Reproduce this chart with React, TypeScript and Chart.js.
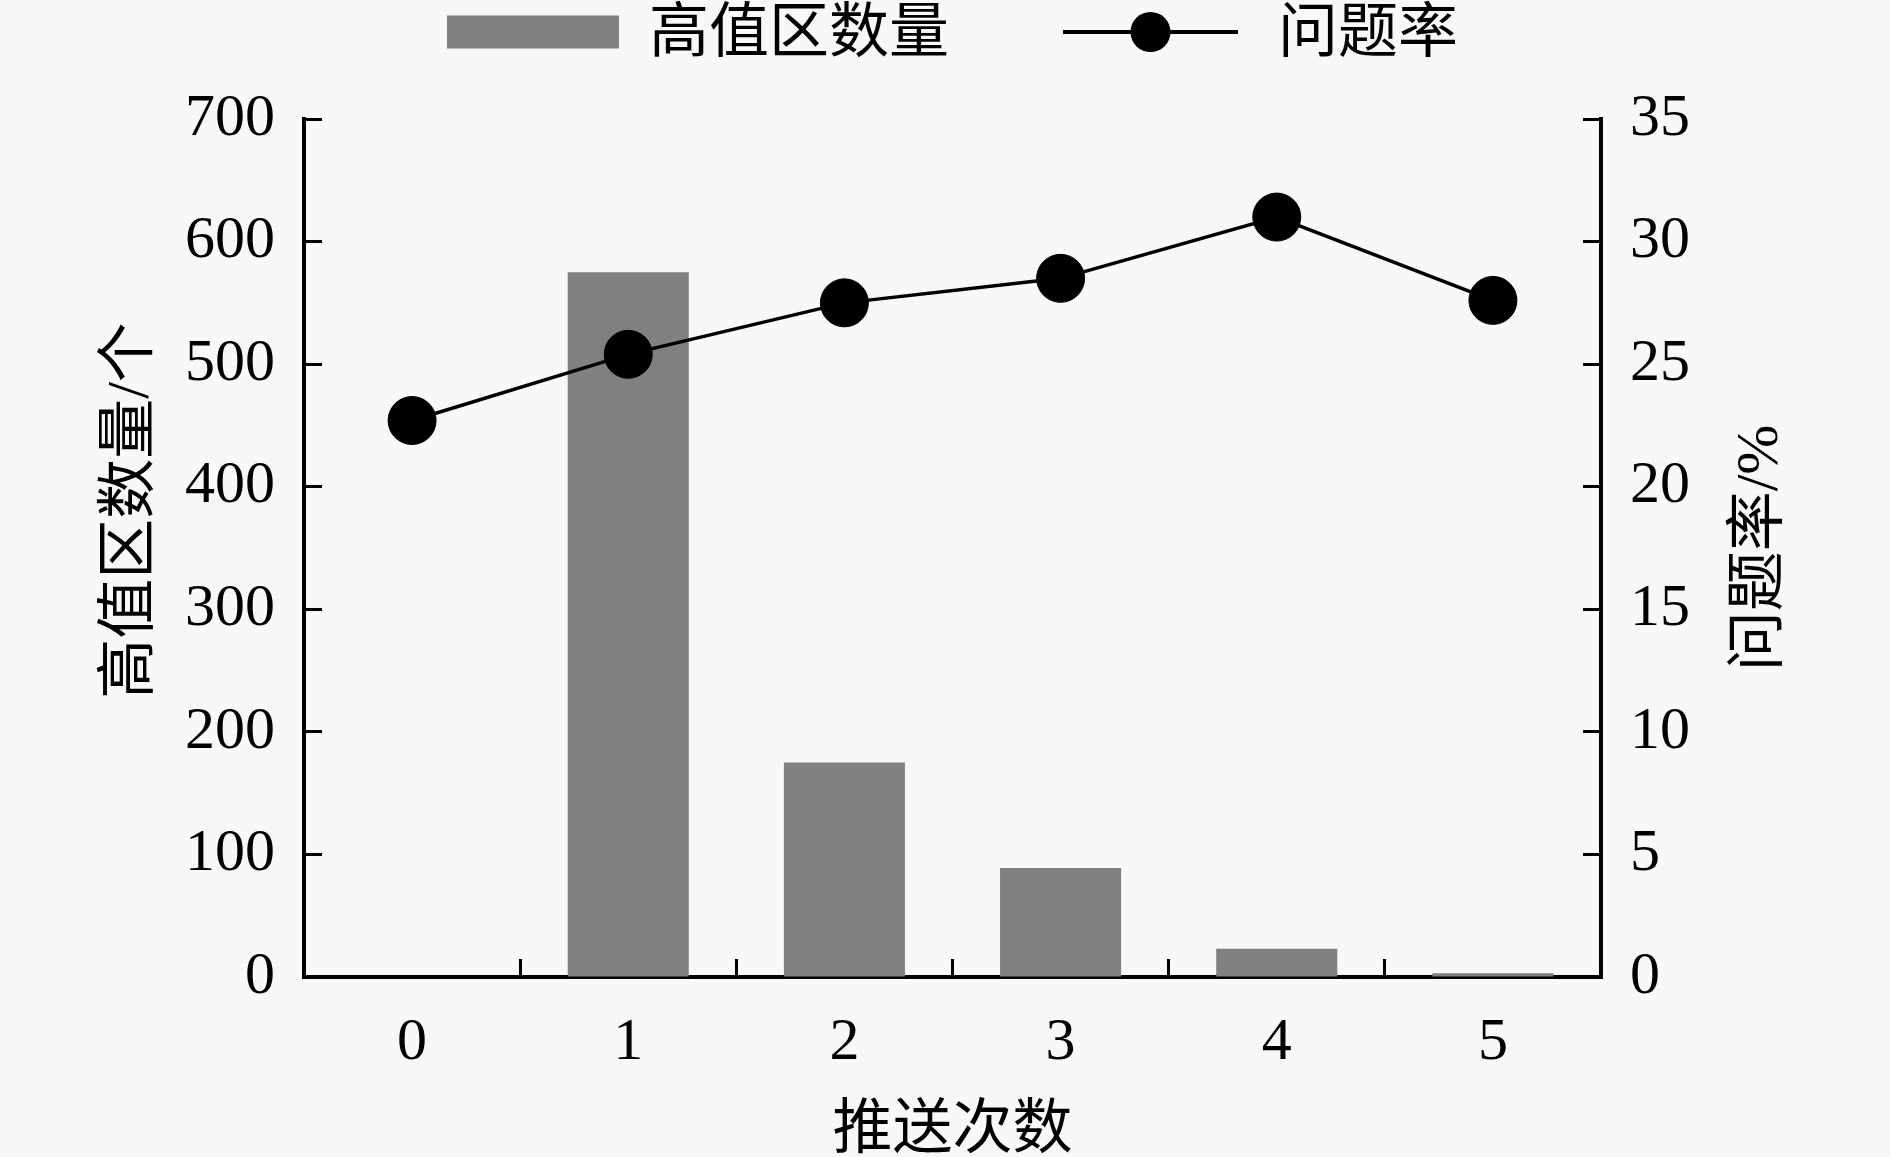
import React, { useEffect, useRef } from 'react';
import { Chart, registerables } from 'chart.js';

Chart.register(...registerables);

// ---- data ----
const categories = ['0', '1', '2', '3', '4', '5'];
const highValueCounts = [0, 575, 175, 89, 23, 3];
const problemRates = [22.7, 25.4, 27.5, 28.5, 31.0, 27.6];
const leftAxisRange = [0, 700, 100];
const rightAxisRange = [0, 35, 5];
const barLabel = '高值区数量';
const lineLabel = '问题率';
const xTitle = '推送次数';
const leftTitle = '高值区数量/个';
const rightTitle = '问题率/%';

const FONT = "'Liberation Serif', 'Noto Sans CJK SC', serif";
const BAR_COLOR = '#808080';
const INK = '#000000';

const refLegendAndTitle = {
  id: 'refLegendAndTitle',
  afterDraw(chart: any) {
    const ctx = chart.ctx as CanvasRenderingContext2D;
    const area = chart.chartArea;
    const datasets = chart.data.datasets;
    const barDs = datasets.find((d: any) => d.type === 'bar');
    const lineDs = datasets.find((d: any) => d.type === 'line');
    ctx.save();
    ctx.font = `60px ${FONT}`;
    const w1 = ctx.measureText(barDs.label).width;
    const w2 = ctx.measureText(lineDs.label).width;
    const swW = 172, swH = 33, gap = 30, itemGap = 114, lineW = 175, lineGap = 40;
    const total = swW + gap + w1 + itemGap + lineW + lineGap + w2;
    const cx = (area.left + area.right) / 2;
    const cy = 32;
    let x = cx - total / 2;
    ctx.fillStyle = barDs.backgroundColor;
    ctx.fillRect(x, cy - swH / 2, swW, swH);
    x += swW + gap;
    ctx.fillStyle = INK;
    ctx.textAlign = 'left';
    ctx.textBaseline = 'middle';
    ctx.fillText(barDs.label, x, cy + 4);
    x += w1 + itemGap;
    ctx.strokeStyle = lineDs.borderColor;
    ctx.lineWidth = 4;
    ctx.beginPath();
    ctx.moveTo(x, cy);
    ctx.lineTo(x + lineW, cy);
    ctx.stroke();
    ctx.fillStyle = lineDs.pointBackgroundColor;
    ctx.beginPath();
    ctx.arc(x + lineW / 2, cy, 20, 0, Math.PI * 2);
    ctx.fill();
    x += lineW + lineGap;
    ctx.fillStyle = INK;
    ctx.fillText(lineDs.label, x, cy + 4);

    // right axis title, reading bottom-to-top
    const s = chart.scales.y1;
    ctx.translate(s.right - 129, (area.top + area.bottom) / 2);
    ctx.rotate(-Math.PI / 2);
    ctx.textAlign = 'center';
    ctx.textBaseline = 'middle';
    ctx.fillText(rightTitle, 0, 0);
    ctx.restore();
  },
};

export default function App() {
  const ref = useRef<HTMLCanvasElement | null>(null);
  useEffect(() => {
    if (!ref.current) return;
    const tickFont = { family: FONT, size: 60 };
    const chart = new Chart(ref.current, {
      type: 'bar',
      data: {
        labels: categories,
        datasets: [
          {
            type: 'line',
            label: lineLabel,
            data: problemRates,
            yAxisID: 'y1',
            borderColor: INK,
            borderWidth: 3.5,
            pointRadius: 24,
            pointBorderWidth: 1,
            pointBackgroundColor: INK,
            pointBorderColor: INK,
            tension: 0,
            order: 0,
          } as any,
          {
            type: 'bar',
            label: barLabel,
            data: highValueCounts,
            yAxisID: 'y',
            backgroundColor: BAR_COLOR,
            borderWidth: 0,
            categoryPercentage: 1,
            barPercentage: 0.56,
            order: 1,
          } as any,
        ],
      },
      options: {
        animation: false,
        responsive: true,
        maintainAspectRatio: false,
        layout: { padding: { top: 119, left: 0, right: 0, bottom: 0 } },
        plugins: {
          legend: { display: false },
          tooltip: { enabled: false },
        },
        scales: {
          x: {
            type: 'category',
            offset: true,
            grid: {
              display: true,
              offset: true,
              drawOnChartArea: false,
              drawTicks: true,
              tickLength: -18,
              tickWidth: 3,
              tickColor: INK,
            },
            border: { display: true, color: INK, width: 4 },
            ticks: { color: INK, font: tickFont, padding: 48, maxRotation: 0, autoSkip: false },
            title: {
              display: true,
              text: xTitle,
              color: INK,
              font: { family: FONT, size: 60, lineHeight: 1.0 },
              padding: { top: 0, bottom: -5 },
            },
            afterFit: (s: any) => {
              s.height = 180;
            },
          },
          y: {
            type: 'linear',
            position: 'left',
            min: leftAxisRange[0],
            max: leftAxisRange[1],
            grid: {
              drawOnChartArea: false,
              drawTicks: true,
              tickLength: -18,
              tickWidth: 3,
              tickColor: INK,
            },
            border: { display: true, color: INK, width: 4 },
            ticks: { stepSize: leftAxisRange[2], color: INK, font: tickFont, padding: 47 },
            title: {
              display: true,
              text: '     ' + leftTitle,
              color: INK,
              font: { family: FONT, size: 60, lineHeight: 1.2 },
              padding: { top: 96, bottom: 0 },
            },
            afterFit: (s: any) => {
              s.width = 304;
            },
          },
          y1: {
            type: 'linear',
            position: 'right',
            min: rightAxisRange[0],
            max: rightAxisRange[1],
            grid: {
              drawOnChartArea: false,
              drawTicks: true,
              tickLength: -18,
              tickWidth: 3,
              tickColor: INK,
            },
            border: { display: true, color: INK, width: 4 },
            ticks: { stepSize: rightAxisRange[2], color: INK, font: tickFont, padding: 47 },
            afterFit: (s: any) => {
              s.width = 289;
            },
          },
        },
      } as any,
      plugins: [refLegendAndTitle],
    });
    return () => chart.destroy();
  }, []);

  return (
    <div
      style={{
        position: 'fixed',
        left: 0,
        top: 0,
        width: 1890,
        height: 1157,
        background: '#f8f8f8',
      }}
    >
      <canvas ref={ref} />
    </div>
  );
}
